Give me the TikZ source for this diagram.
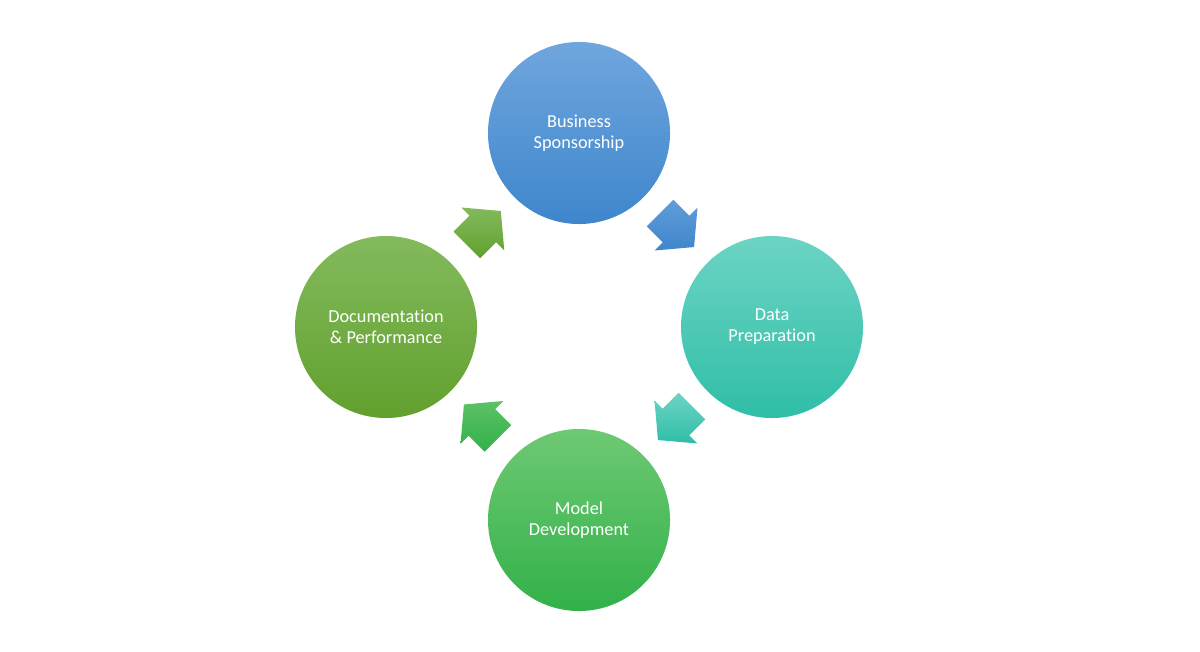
\documentclass[tikz,border=0pt]{standalone}
\usepackage{fontspec}
\setmainfont{Carlito}[Ligatures=NoCommon]
\usetikzlibrary{shapes.arrows,positioning}
\definecolor{cBizTop}{HTML}{70A6DE}
\definecolor{cBizBot}{HTML}{3E86CC}
\definecolor{cDataTop}{HTML}{6DD4C4}
\definecolor{cDataBot}{HTML}{2FBEA8}
\definecolor{cModTop}{HTML}{6EC973}
\definecolor{cModBot}{HTML}{32B149}
\definecolor{cDocTop}{HTML}{83BA5D}
\definecolor{cDocBot}{HTML}{61A02D}

\begin{document}
\begin{tikzpicture}[x=0.025cm,y=0.025cm,
  stage/.style={circle,minimum size=4.55cm,inner sep=0pt,align=center,text=white,font=\fontsize{13}{15}\selectfont},
  flow/.style={single arrow,minimum height=1.2cm,inner xsep=0pt,inner ysep=0.4625cm,single arrow head extend=0.29cm,single arrow tip angle=100}]
  \useasboundingbox (0,0) rectangle (1200,-651);
  % the four stages
  \node[stage,top color=cBizTop,bottom color=cBizBot] (biz) at (579,-133) {Business\\Sponsorship};
  \node[stage,top color=cDataTop,bottom color=cDataBot] (data) at (772,-327) {Data\\Preparation};
  \node[stage,top color=cModTop,bottom color=cModBot] (model) at (579,-520) {Model\\Development};
  \node[stage,top color=cDocTop,bottom color=cDocBot] (doc) at (386,-327) {Documentation\\\& Performance};
  % block arrows between them
  \node[flow,top color=cBizTop!70!cBizBot,bottom color=cBizBot,rotate=-45] (bizdata) at (671.5,-224.5) {};
  \node[flow,top color=cDataTop,bottom color=cDataBot,rotate=-135] (datamodel) at (680.5,-417.5) {};
  \node[flow,top color=cModTop!70!cModBot,bottom color=cModBot,rotate=135] (modeldoc) at (486.5,-427) {};
  \node[flow,top color=cDocTop,bottom color=cDocBot,rotate=45] (docbiz) at (478.25,-233.5) {};
\end{tikzpicture}
\end{document}
